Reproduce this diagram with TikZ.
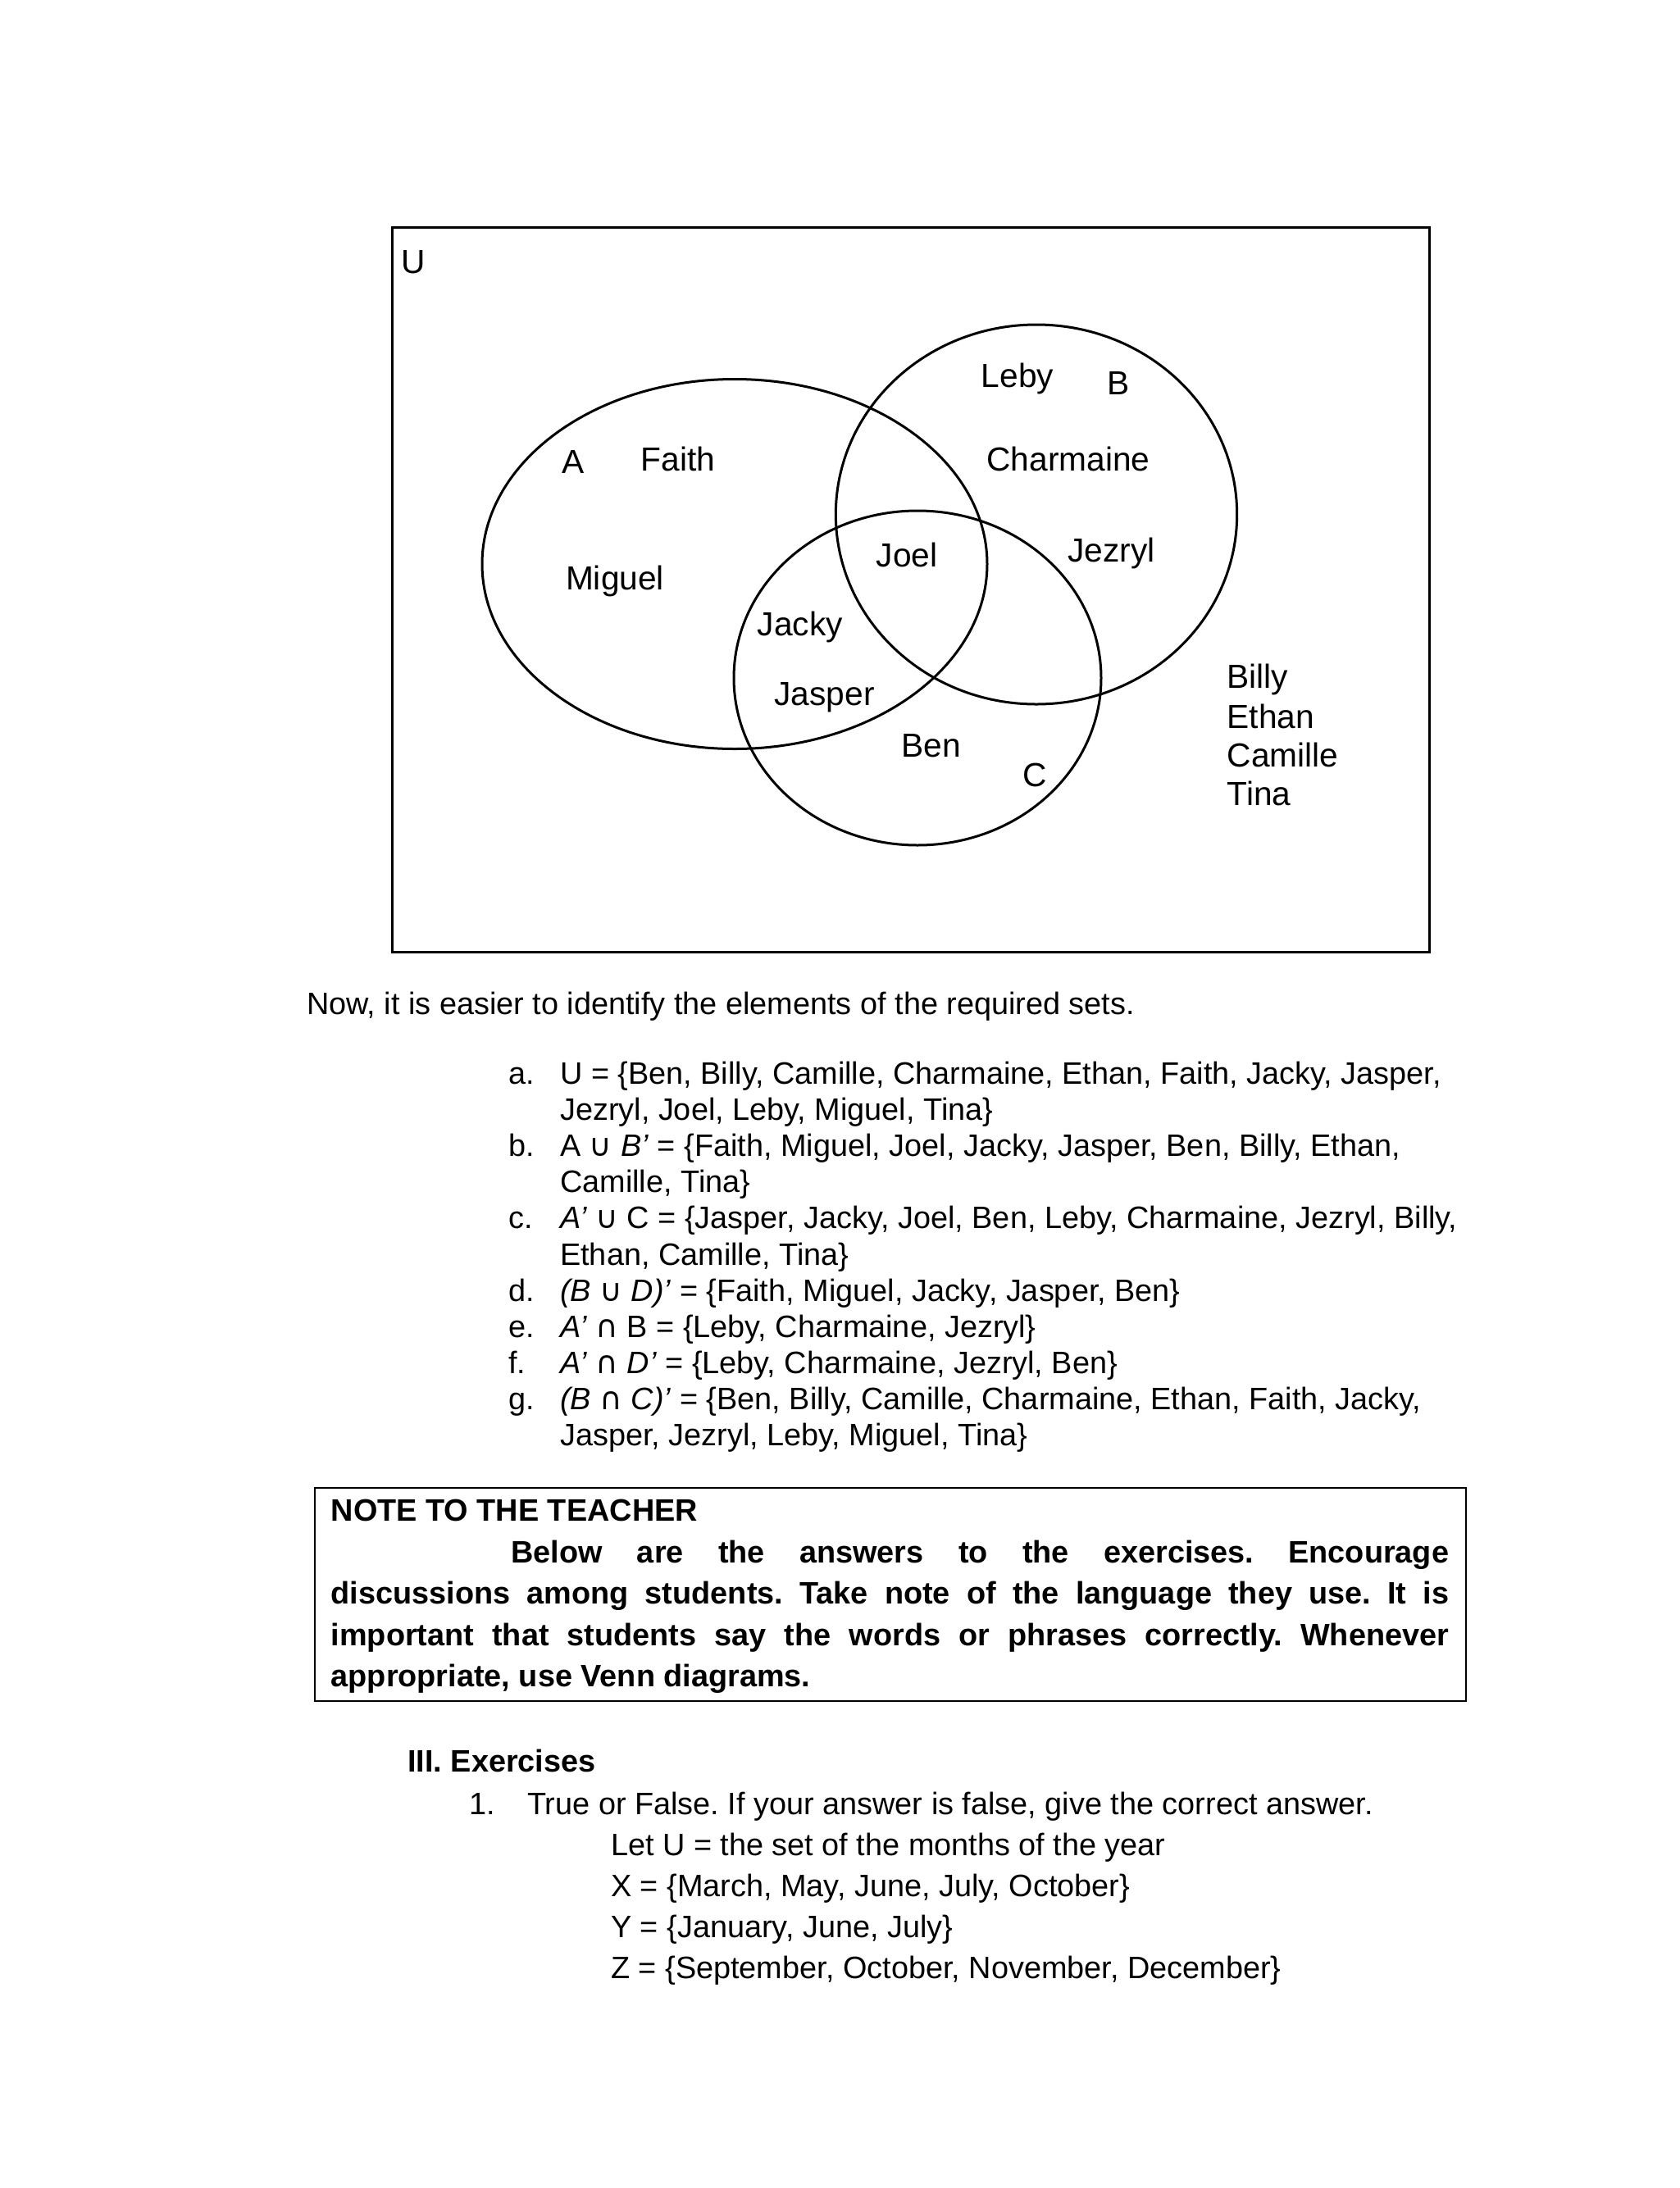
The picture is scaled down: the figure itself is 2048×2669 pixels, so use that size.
\documentclass[tikz,border=0pt]{standalone}
\usepackage{fontspec}
\setmainfont{Liberation Sans}
\newfontfamily\symf{DejaVu Sans}[Scale=1.0]
\newcommand{\cupx}{{\symf ∪}}
\newcommand{\capx}{{\symf ∩}}
\frenchspacing
\begin{document}
\begin{tikzpicture}[x=1pt,y=-1pt,
  lbl/.style={inner sep=0pt, anchor=base, font=\fontsize{40.7}{47}\selectfont},
  lblw/.style={lbl, anchor=base west},
  txt/.style={inner sep=0pt, anchor=base west, font=\fontsize{37.85}{44}\selectfont},
  btxt/.style={inner sep=0pt, anchor=base west, font=\fontsize{37.85}{44}\selectfont\bfseries},
  setline/.style={line width=3pt},
  boxline/.style={line width=2.5pt}]
\useasboundingbox (0,0) rectangle (2048,2669);
% universe
\draw[setline] (478,277) rectangle (1743,1161);
\node[lblw] (u) at (489,333.6) {U};
% sets
\draw[setline] (896,688) ellipse [x radius=308pt, y radius=225.5pt];
\draw[setline] (1264,627.5) ellipse [x radius=244.7pt, y radius=231.5pt];
\draw[setline] (1119,827) ellipse [x radius=224pt, y radius=204pt];
% labels
\node[lbl] (leby) at (1241,472.6) {Leby};
\node[lbl] (bl) at (1364,481.6) {B};
\node[lbl] (al) at (699,577) {A};
\node[lbl] (faith) at (827,574) {Faith};
\node[lbl] (charm) at (1303,574) {Charmaine};
\node[lbl] (joel) at (1106,691.6) {Joel};
\node[lbl] (jez) at (1355.5,685.6) {Jezryl};
\node[lbl] (mig) at (750,719) {Miguel};
\node[lbl] (jacky) at (976,775.6) {Jacky};
\node[lbl] (jasper) at (1005.6,860.6) {Jasper};
\node[lbl] (ben) at (1136,923.6) {Ben};
\node[lbl] (cl) at (1262,959.6) {C};
\node[lblw] (billy) at (1496.5,839.6) {Billy};
\node[lblw] (ethan) at (1496.5,888.4) {Ethan};
\node[lblw] (camille) at (1496.5,935.3) {Camille};
\node[lblw] (tina) at (1496.5,982.3) {Tina};
% text
\node[txt] (now) at (374,1237.5) {Now, it is easier to identify the elements of the required sets.};
\node[txt] (la) at (620,1322.5) {a.};
\node[txt] (ta1) at (683,1322.5) {U = \{Ben, Billy, Camille, Charmaine, Ethan, Faith, Jacky, Jasper,};
\node[txt] (ta2) at (683,1366.6) {Jezryl, Joel, Leby, Miguel, Tina\}};
\node[txt] (lb) at (620,1410.7) {b.};
\node[txt] (tb1) at (683,1410.7) {A \cupx{} \textit{B’} = \{Faith, Miguel, Joel, Jacky, Jasper, Ben, Billy, Ethan,};
\node[txt] (tb2) at (683,1454.8) {Camille, Tina\}};
\node[txt] (lc) at (620,1498.9) {c.};
\node[txt] (tc1) at (683,1498.9) {\textit{A’} \cupx{} C = \{Jasper, Jacky, Joel, Ben, Leby, Charmaine, Jezryl, Billy,};
\node[txt] (tc2) at (683,1543) {Ethan, Camille, Tina\}};
\node[txt] (ld) at (620,1587.1) {d.};
\node[txt] (td) at (683,1587.1) {\textit{(B} \cupx{} \textit{D)’} = \{Faith, Miguel, Jacky, Jasper, Ben\}};
\node[txt] (le) at (620,1631.2) {e.};
\node[txt] (te) at (683,1631.2) {\textit{A’} \capx{} B = \{Leby, Charmaine, Jezryl\}};
\node[txt] (lf) at (620,1675.3) {f.};
\node[txt] (tf) at (683,1675.3) {\textit{A’} \capx{} \textit{D’} = \{Leby, Charmaine, Jezryl, Ben\}};
\node[txt] (lg) at (620,1719.4) {g.};
\node[txt] (tg1) at (683,1719.4) {\textit{(B} \capx{} \textit{C)’} = \{Ben, Billy, Camille, Charmaine, Ethan, Faith, Jacky,};
\node[txt] (tg2) at (683,1763.5) {Jasper, Jezryl, Leby, Miguel, Tina\}};
% note box
\draw[boxline] (384,1815) rectangle (1788,2075);
\node[btxt] (note) at (403.5,1855.5) {NOTE TO THE TEACHER};
\node[btxt] (n1) at (623,1906.5) {\makebox[1144pt][s]{Below are the answers to the exercises. Encourage}};
\node[btxt] (n2) at (403.5,1956.5) {\makebox[1363.5pt][s]{discussions among students. Take note of the language they use. It is}};
\node[btxt] (n3) at (403.5,2007) {\makebox[1363.5pt][s]{important that students say the words or phrases correctly. Whenever}};
\node[btxt] (n4) at (403.5,2057) {appropriate, use Venn diagrams.};
% exercises
\node[btxt] (ex) at (497,2161.5) {III. Exercises};
\node[txt] (l1) at (572,2213.5) {1.};
\node[txt] (t1) at (643,2213.5) {True or False. If your answer is false, give the correct answer.};
\node[txt] (letu) at (745,2263.5) {Let U = the set of the months of the year};
\node[txt] (xs) at (745,2313.5) {X = \{March, May, June, July, October\}};
\node[txt] (ys) at (745,2363.5) {Y = \{January, June, July\}};
\node[txt] (zs) at (745,2413.5) {Z = \{September, October, November, December\}};
\end{tikzpicture}
\end{document}
